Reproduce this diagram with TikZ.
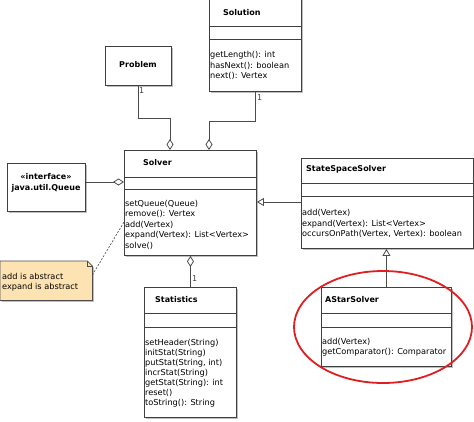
\documentclass[tikz,border=0pt]{standalone}
\usepackage{fontspec}
\setmainfont{DejaVu Sans}
\usetikzlibrary{arrows.meta,calc,shadows,shapes.geometric}
\definecolor{notefill}{HTML}{FDE3B2}
\definecolor{multcol}{HTML}{4A3A4A}
\definecolor{ringred}{HTML}{E01E22}
\begin{document}
\begin{tikzpicture}[x=1pt,y=-1pt,
  cls/.style={draw=black!75, line width=0.9pt, fill=white, inner sep=0pt, anchor=north west,
    drop shadow={shadow xshift=1.5pt, shadow yshift=-1.5pt, fill=black!25, opacity=1}},
  div/.style={draw=black!75, line width=0.9pt},
  cname/.style={font=\fontsize{8}{9.5}\selectfont\bfseries, inner sep=0pt, anchor=west},
  meth/.style={font=\fontsize{8.2}{10.4}\selectfont, inner sep=0pt, anchor=north west, align=left},
  link/.style={draw=black!70, line width=0.8pt},
  agg/.style={link, -{Diamond[open, length=11pt, width=7pt]}},
  gen/.style={link, -{Triangle[open, length=7pt, width=8pt]}},
  mult/.style={font=\fontsize{8}{9}\selectfont, text=multcol, inner sep=0pt, anchor=west}]
\useasboundingbox (0,0) rectangle (474,421);

% Problem
\node[cls, minimum width=66pt, minimum height=39pt] (problem) at (105,46) {};
\node[cname, anchor=center] (problemname) at (138,65) {Problem};

% Solution
\node[cls, minimum width=92pt, minimum height=93pt] (solution) at (209,-2) {};
\draw[div] ($(solution.north west)+(0,28)$) -- ($(solution.north east)+(0,28)$);
\draw[div] ($(solution.north west)+(0,41)$) -- ($(solution.north east)+(0,41)$);
\node[cname] (solutionname) at (223,13) {Solution};
\node[meth] (solutionmeth) at (210,51.5) {getLength(): int\\hasNext(): boolean\\next(): Vertex};

% Solver
\node[cls, minimum width=132pt, minimum height=105pt] (solver) at (124,150) {};
\draw[div] ($(solver.north west)+(0,27)$) -- ($(solver.north east)+(0,27)$);
\draw[div] ($(solver.north west)+(0,39)$) -- ($(solver.north east)+(0,39)$);
\node[cname] (solvername) at (143,163) {Solver};
\node[meth] (solvermeth) at (125,200) {setQueue(Queue)\\remove(): Vertex\\add(Vertex)\\expand(Vertex): List<Vertex>\\solve()};

% Queue interface
\node[cls, minimum width=78pt, minimum height=48pt] (queue) at (7,163) {};
\node[cname, anchor=center] (queuest) at (46,177) {«interface»};
\node[cname, anchor=center] (queuename) at (46,188) {java.util.Queue};

% StateSpaceSolver
\node[cls, minimum width=172pt, minimum height=90pt] (sss) at (301,158) {};
\draw[div] ($(sss.north west)+(0,25)$) -- ($(sss.north east)+(0,25)$);
\draw[div] ($(sss.north west)+(0,38)$) -- ($(sss.north east)+(0,38)$);
\node[cname] (sssname) at (306,169) {StateSpaceSolver};
\node[meth] (sssmeth) at (302,209.5) {add(Vertex)\\expand(Vertex): List<Vertex>\\occursOnPath(Vertex, Vertex): boolean};

% Statistics
\node[cls, minimum width=92pt, minimum height=130pt] (stats) at (144,287) {};
\draw[div] ($(stats.north west)+(0,26)$) -- ($(stats.north east)+(0,26)$);
\draw[div] ($(stats.north west)+(0,40)$) -- ($(stats.north east)+(0,40)$);
\node[cname] (statsname) at (155,300) {Statistics};
\node[meth, font=\fontsize{8.2}{9.85}\selectfont] (statsmeth) at (145,339.5) {setHeader(String)\\initStat(String)\\putStat(String, int)\\incrStat(String)\\getStat(String): int\\reset()\\toString(): String};

% AStarSolver
\node[cls, minimum width=130pt, minimum height=79pt] (astar) at (321,287) {};
\draw[div] ($(astar.north west)+(0,26)$) -- ($(astar.north east)+(0,26)$);
\draw[div] ($(astar.north west)+(0,40)$) -- ($(astar.north east)+(0,40)$);
\node[cname] (astarname) at (325,300) {AStarSolver};
\node[meth, font=\fontsize{8.2}{10}\selectfont] (astarmeth) at (322,338.5) {add(Vertex)\\getComparator(): Comparator};

% Note
\node[inner sep=0pt, minimum width=92pt, minimum height=39pt, anchor=north west] (note) at (0,261) {};
\fill[black!25] ($(note.north west)+(1.5,1.5)$) -- ($(note.north east)+(-3.5,1.5)$) -- ($(note.north east)+(1.5,6.5)$) -- ($(note.south east)+(1.5,1.5)$) -- ($(note.south west)+(1.5,1.5)$) -- cycle;
\draw[line width=0.8pt, draw=black!70, fill=notefill] (note.north west) -- ($(note.north east)+(-5,0)$) -- ($(note.north east)+(0,5)$) -- (note.south east) -- (note.south west) -- cycle;
\draw[line width=0.6pt, draw=black!70] ($(note.north east)+(-5,0)$) -- ($(note.north east)+(-5,5)$) -- ($(note.north east)+(0,5)$);
\node[meth] (notetext) at (2,273) {add is abstract\\expand is abstract};

% Connectors
\coordinate (pb) at (170,118);
\draw[agg] (problem.south) |- (pb) -- (pb |- solver.north);
\node[mult] (m1) at (139,91) {1};
\coordinate (sb) at (209,121);
\draw[agg] (solution.south) |- (sb) -- (sb |- solver.north);
\node[mult] (m2) at (257,98) {1};
\coordinate (qb) at (0,182);
\draw[agg] (queue.east |- qb) -- (solver.west |- qb);
\draw[agg] (stats.north) -- (stats.north |- solver.south);
\node[mult] (m3) at (192,279) {1};
\coordinate (gb) at (0,202);
\draw[gen] (sss.west |- gb) -- (solver.east |- gb);
\draw[gen] (astar.north) -- (astar.north |- sss.south);
\coordinate (na) at (0,275);
\coordinate (nb) at (0,222);
\draw[draw=black!70, line width=0.6pt, dash pattern=on 2pt off 1.5pt] (note.east |- na) -- (solver.west |- nb);

% Highlight ring
\node[draw=ringred, line width=1.8pt, ellipse, minimum width=178pt, minimum height=112pt, inner sep=0pt] (ring) at (383,327) {};
\end{tikzpicture}
\end{document}
